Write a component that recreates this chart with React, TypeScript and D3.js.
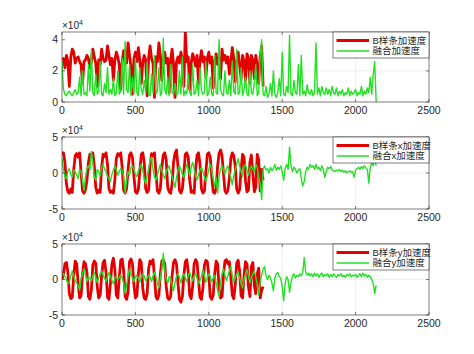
import React, { useEffect, useRef } from 'react'
import * as d3 from 'd3'

// 数据单位: ×10^4, 红线每 10 个采样点一个值 (0..1370), 绿线 (0..2140)
const STEP = 10

const splineAcc = [
  2.7, 2.8, 2.2, 3.0, 2.6, 1.0, 2.9, 3.4, 3.2, 2.5,
  2.8, 2.9, 2.6, 2.4, 1.2, 2.6, 2.7, 3.0, 2.8, 2.2,
  2.6, 3.4, 2.9, 2.5, 1.0, 2.7, 2.4, 3.4, 2.8, 2.6,
  2.7, 3.6, 3.0, 2.4, 2.8, 1.4, 2.7, 3.2, 2.9, 2.4,
  0.8, 2.6, 3.3, 2.9, 2.5, 3.8, 3.0, 2.2, 0.5, 2.8,
  3.2, 2.6, 3.5, 2.7, 1.2, 2.5, 3.0, 2.7, 0.4, 2.8,
  3.6, 2.8, 2.5, 0.3, 2.9, 2.6, 3.8, 3.0, 1.4, 2.7,
  3.2, 2.5, 2.8, 0.6, 2.7, 3.4, 2.4, 0.3, 2.6, 2.9,
  2.5, 3.2, 2.7, 1.0, 4.5, 2.6, 2.9, 0.8, 2.5, 3.1,
  2.8, 2.3, 3.0, 1.2, 2.7, 3.3, 2.6, 2.9, 1.6, 2.8,
  3.2, 2.5, 2.9, 0.9, 2.6, 3.1, 2.4, 2.8, 1.5, 3.4,
  2.7, 3.0, 2.5, 2.9, 1.8, 2.6, 3.5, 2.8, 1.3, 2.6,
  3.2, 2.4, 1.5, 3.0, 2.6, 1.4, 3.1, 2.8, 1.2, 3.0,
  2.7, 1.5, 3.0, 2.4, 1.2, 2.9, 3.6, 1.0,
]

const fusedAcc = [
  2.6, 0.8, 0.5, 0.4, 0.6, 0.7, 0.5, 0.4, 0.6, 0.8,
  0.5, 0.6, 1.6, 0.4, 2.0, 0.5, 0.6, 0.4, 2.4, 0.7,
  3.4, 0.6, 0.4, 1.8, 0.5, 0.7, 2.6, 0.5, 0.4, 1.2,
  0.6, 2.2, 0.5, 0.8, 0.5, 1.5, 0.4, 0.6, 2.0, 0.5,
  0.7, 2.8, 0.5, 3.9, 0.8, 0.6, 2.4, 0.4, 1.6, 0.5,
  2.8, 0.6, 0.4, 2.2, 0.8, 0.5, 1.4, 0.6, 2.6, 0.5,
  0.4, 1.8, 0.6, 3.0, 0.5, 0.7, 2.2, 0.4, 0.6, 4.1,
  0.8, 0.5, 1.6, 0.4, 2.4, 0.6, 0.5, 1.2, 0.4, 0.6,
  2.0, 0.5, 2.9, 0.4, 0.7, 0.5, 1.8, 0.6, 0.4, 2.4,
  0.5, 0.6, 1.4, 0.4, 2.2, 0.7, 0.5, 0.6, 2.6, 0.4,
  0.6, 1.6, 0.5, 0.4, 3.0, 0.6, 0.5, 4.0, 0.8, 0.5,
  0.4, 2.0, 0.6, 0.5, 1.4, 0.4, 2.6, 0.7, 0.5, 3.4,
  0.5, 0.6, 2.2, 0.4, 0.8, 1.6, 0.5, 0.4, 2.0, 0.6,
  0.5, 1.2, 2.4, 0.4, 0.6, 3.0, 4.0, 0.5, 0.4, 1.0,
  0.3, 0.5, 1.2, 0.4, 2.0, 0.5, 0.3, 0.6, 1.5, 0.4,
  3.2, 0.5, 0.4, 1.0, 0.6, 4.3, 0.5, 0.4, 1.4, 0.6,
  0.5, 2.4, 0.4, 3.0, 0.5, 0.7, 0.4, 1.1, 0.6, 0.5,
  0.8, 0.4, 0.6, 3.8, 0.5, 0.9, 0.4, 1.0, 0.6, 0.5,
  0.9, 0.5, 0.8, 0.4, 1.0, 0.6, 0.5, 0.9, 0.4, 0.7,
  0.5, 0.8, 0.4, 0.6, 0.5, 0.9, 0.4, 0.7, 0.5, 0.6,
  0.8, 0.4, 0.6, 0.5, 1.0, 0.4, 0.7, 0.5, 0.9, 0.6,
  1.6, 0.5, 1.8, 2.6, 0.0,
]

const splineAccX = [
  2.5, 2.8, 1.5, -1.5, -2.6, -2.8, -2.2, -2.7, 0.5, 2.4,
  2.7, 2.2, 2.8, 0.0, -2.5, -2.8, -2.3, -1.0, 1.5, 2.6,
  2.2, 2.8, 1.0, -2.0, -2.8, -2.4, -2.7, 0.8, 2.6, 2.3,
  2.8, 1.2, -2.2, -2.7, -2.5, -2.8, -1.0, 2.0, 2.7, 2.4,
  2.8, 0.8, -2.4, -2.8, -2.2, 0.5, 2.5, 2.8, 2.2, -0.5,
  -2.6, -2.8, -2.3, 0.2, 2.6, 2.8, 1.5, -2.2, -2.7, -2.4,
  1.0, 2.7, 2.4, 2.8, 0.0, -2.5, -2.8, -2.2, 0.8, 2.5,
  2.8, 1.8, -2.0, -2.6, -2.8, -1.5, 1.5, 2.7, 3.2, 1.0,
  -2.4, -2.8, -2.2, 0.0, 2.6, 2.8, 2.2, -1.0, -2.7, -2.5,
  -2.8, 0.5, 2.5, 2.8, 1.2, -2.2, -2.8, -2.5, 0.2, 2.6,
  2.8, 2.2, -0.5, -2.6, -2.8, -2.2, 1.0, 2.7, 3.2, 2.4,
  0.0, -2.5, -2.8, -2.4, -0.8, 2.0, 2.8, 2.4, 1.0, -2.2,
  -2.8, -2.3, 0.5, 2.6, 2.2, -1.0, -2.6, -2.4, 1.5, 2.5,
  0.0, -2.6, -2.0, 2.6, 1.8, -2.5, 0.5, -1.0,
]

const fusedAccX = [
  2.0, 0.5, -0.5, -0.8, 0.3, 0.6, -0.2, -0.6, 0.4, 0.2,
  -0.3, -0.8, 0.5, 0.2, -1.2, -2.4, -0.5, 0.6, 1.0, 0.4,
  3.0, 1.5, -0.5, -1.0, 0.5, 0.2, -0.4, 0.8, 1.2, 0.5,
  0.2, -0.5, -0.8, -1.2, -0.2, 0.4, 1.0, 0.5, -0.3, 0.2,
  0.6, 0.4, -0.5, -2.8, -1.0, 0.2, -0.3, 0.8, 1.0, 0.5,
  -0.2, -0.5, 0.3, 0.8, 1.2, 0.4, -0.8, -1.5, -0.4, 0.6,
  1.8, 2.2, 0.5, -0.6, -1.0, -0.2, 0.5, 1.2, 0.4, -0.3,
  -0.8, 0.2, 0.6, 1.0, 0.2, -0.5, -1.2, -2.0, -0.6, 0.4,
  1.0, 0.5, -0.2, -0.6, 0.4, 1.2, 0.6, -0.4, 0.8, 1.5,
  0.6, -0.5, -1.0, -0.2, 0.4, 0.8, 0.2, -0.6, -1.2, -0.4,
  0.5, 1.2, 0.4, -0.8, -1.8, -0.6, -2.8, -0.5, 0.6, 1.0,
  0.4, -0.2, 0.6, 1.0, 0.2, -0.6, -1.6, -0.4, 0.5, 1.2,
  2.0, 1.0, 0.2, -0.5, 0.8, 1.2, 0.4, -0.3, 0.6, 1.0,
  0.5, 0.2, 1.2, 0.8, -0.5, -1.5, -3.7, 0.5, 1.0, 0.4,
  0.6, 0.0, 0.8, 0.3, 0.6, 1.2, 0.4, 0.8, 0.5, 1.0,
  0.2, -1.0, 0.6, 1.2, 0.5, 3.6, 1.0, 0.2, 0.8, 0.5,
  0.0, 0.4, 0.6, -0.8, -1.8, -1.2, 0.2, 0.8, 0.5, 1.2,
  0.8, 1.0, 0.5, 1.2, 0.6, 0.8, 0.3, 1.0, 0.5, -0.6,
  0.2, 0.8, 0.6, 0.9, 0.4, 0.3, 0.2, 0.4, 0.3, 0.5,
  0.2, 0.4, 0.1, 0.3, 0.0, 0.2, 0.3, 0.1, 0.2, -0.6,
  0.4, 0.6, 0.8, 0.5, 0.9, 0.6, 1.0, 0.7, 0.5, -1.4,
  0.8, 1.4, 1.0, 2.0, 1.0,
]

const splineAccY = [
  0.0, 0.8, 2.2, 2.4, 1.0, -2.0, -2.7, -2.5, 0.5, 2.6,
  2.2, -0.5, -2.6, -2.3, 0.8, 2.5, 2.2, 1.0, -2.4, -2.8,
  -1.5, 2.0, 2.6, 2.3, -1.0, -2.6, -2.2, 0.5, 2.4, 2.7,
  1.0, -2.5, -2.8, -0.5, 2.2, 3.0, 1.5, -2.2, -2.6, 0.2,
  2.7, 2.9, 1.2, -2.4, -2.8, -1.8, 2.5, 2.9, 2.2, -0.8,
  -2.6, -2.3, 0.8, 2.8, 2.4, -1.2, -2.6, -2.8, -2.0, 1.5,
  2.6, 2.2, 2.8, 0.4, -2.4, -2.8, -2.2, 0.8, 2.6, 2.8,
  2.2, -1.0, -2.6, -2.8, -2.4, 0.5, 2.4, 2.8, 2.2, -0.5,
  -2.8, -3.2, -2.4, 0.6, 2.5, 2.8, 1.0, -2.2, -2.7, -1.0,
  2.2, 2.8, 2.4, -0.2, -2.5, -2.8, -1.2, 2.0, 2.7, 2.5,
  0.5, -2.4, -2.8, -2.2, 0.8, 2.6, 2.2, -1.2, -2.6, -2.4,
  0.6, 2.6, 2.8, 2.2, 2.5, 0.4, -2.2, -2.7, -0.8, 2.3,
  2.7, 1.2, -2.3, -2.6, 0.5, 2.5, 2.2, -1.0, -2.4, 1.8,
  2.4, -0.8, -2.0, 0.8, 1.6, -2.6, -1.5, -1.0,
]

const fusedAccY = [
  0.5, 0.8, 0.4, 0.0, -0.6, -0.4, 0.5, 1.2, 0.6, -0.2,
  -0.5, -0.8, -1.5, 0.2, 0.8, 1.5, 0.6, -0.3, 0.4, 0.2,
  -0.2, 0.5, 1.0, 0.3, -0.4, 0.2, 0.8, 1.2, 0.6, 0.2,
  -0.3, 0.4, 1.0, 0.5, -0.2, -0.6, 0.2, 0.5, 0.0, 0.3,
  0.6, 0.2, -0.5, -2.0, -0.8, 0.5, 1.5, 0.8, 0.2, -0.3,
  0.4, 0.6, 0.2, -0.4, 0.3, 0.8, 0.5, -0.2, 0.2, 0.6,
  0.4, -0.3, 0.5, 1.0, 0.4, -0.6, -1.2, 0.2, 1.5, 3.7,
  1.2, 0.0, -0.5, 0.4, 0.2, -0.8, -1.6, -0.4, 0.5, 0.8,
  0.3, -0.5, 0.4, 0.8, 0.2, -0.3, 0.6, 1.0, 0.4, -0.2,
  0.5, 0.8, 0.2, -0.6, -0.2, 0.5, 1.4, 0.6, -0.4, 0.3,
  0.8, 0.4, -0.3, 0.2, 0.6, -0.5, -1.5, -2.4, -0.4, 0.8,
  1.5, 0.6, -0.2, 0.5, 1.2, 1.8, 0.6, -0.4, 0.2, 0.8,
  1.0, 0.2, -0.6, -1.2, 0.0, 0.8, 1.4, 0.5, -0.5, 0.3,
  0.8, 1.2, 0.4, -0.8, -2.2, -0.4, 0.6, 1.5, 1.8, 0.5,
  0.0, 0.6, 0.2, -0.5, -1.6, 0.2, 0.8, 1.0, 0.4, 0.2,
  -1.0, -3.0, -0.6, 0.4, 0.0, -1.8, -0.4, 0.5, 0.8, 0.2,
  0.6, 0.4, 0.8, 0.5, 1.0, 3.1, 1.0, 0.6, 0.9, 0.5,
  0.8, 0.4, 0.9, 0.5, 0.8, 0.3, 0.7, 0.9, 0.4, 0.7,
  0.5, 0.8, 0.3, 0.7, 0.4, 0.8, 0.5, 0.3, 0.7, 0.5,
  0.8, 0.4, 0.6, 0.3, 0.7, 0.5, 0.8, 0.4, 0.6, 0.5,
  0.7, 0.3, 0.6, 0.8, 0.4, 0.9, 0.5, 0.7, 0.3, 0.6,
  0.4, 0.0, -0.6, -2.0, -0.8,
]

const xTicks = [0, 500, 1000, 1500, 2000, 2500]

const panels = [
  { red: splineAcc, green: fusedAcc, yDomain: [0, 4.5], yTicks: [0, 2, 4], labels: ['B样条加速度', '融合加速度'], top: 32, bottom: 102 },
  { red: splineAccX, green: fusedAccX, yDomain: [-5, 5], yTicks: [-5, 0, 5], labels: ['B样条x加速度', '融合x加速度'], top: 137, bottom: 209 },
  { red: splineAccY, green: fusedAccY, yDomain: [-5, 5], yTicks: [-5, 0, 5], labels: ['B样条y加速度', '融合y加速度'], top: 244, bottom: 315 },
]

const FONT = '"Liberation Sans", Arial, sans-serif'
const CJK = '"Liberation Sans", "Noto Sans CJK SC", sans-serif'
const AXIS = '#262626'
const RED = '#e20000'
const GREEN = '#22e022'

const App = () => {
  const ref = useRef<SVGSVGElement>(null)

  useEffect(() => {
    const svg = d3.select(ref.current)
    svg.selectAll('*').remove()
    svg.append('rect').attr('width', 474).attr('height', 354).attr('fill', '#fff')

    const left = 62
    const right = 429
    const x = d3.scaleLinear().domain([0, 2500]).range([left, right])

    panels.forEach((p) => {
      const y = d3.scaleLinear().domain(p.yDomain).range([p.bottom, p.top])
      const g = svg.append('g')

      // grid
      g.selectAll('.gx').data(xTicks.slice(1, -1)).enter().append('line')
        .attr('x1', (d) => x(d)).attr('x2', (d) => x(d))
        .attr('y1', p.top).attr('y2', p.bottom)
        .attr('stroke', '#e3e3e3').attr('stroke-width', 0.6)
      g.selectAll('.gy').data(p.yTicks.slice(1, -1)).enter().append('line')
        .attr('y1', (d) => y(d)).attr('y2', (d) => y(d))
        .attr('x1', left).attr('x2', right)
        .attr('stroke', '#e3e3e3').attr('stroke-width', 0.6)

      const line = d3.line<number>()
        .x((_, i) => x(i * STEP))
        .y((d) => y(d))

      const clipId = `clip${p.top}`
      svg.append('clipPath').attr('id', clipId).append('rect')
        .attr('x', left).attr('y', p.top).attr('width', right - left).attr('height', p.bottom - p.top)

      g.append('path').datum(p.red).attr('d', line).attr('fill', 'none')
        .attr('stroke', RED).attr('stroke-width', 2.8).attr('stroke-linejoin', 'round')
        .attr('clip-path', `url(#${clipId})`)
      g.append('path').datum(p.green).attr('d', line).attr('fill', 'none')
        .attr('stroke', GREEN).attr('stroke-width', 1.4).attr('stroke-linejoin', 'round')
        .attr('clip-path', `url(#${clipId})`)

      // box
      g.append('rect').attr('x', left).attr('y', p.top).attr('width', right - left).attr('height', p.bottom - p.top)
        .attr('fill', 'none').attr('stroke', AXIS).attr('stroke-width', 0.6)

      // ticks (inside) + labels
      xTicks.forEach((t) => {
        g.append('line').attr('x1', x(t)).attr('x2', x(t)).attr('y1', p.bottom).attr('y2', p.bottom - 3)
          .attr('stroke', AXIS).attr('stroke-width', 0.6)
        g.append('line').attr('x1', x(t)).attr('x2', x(t)).attr('y1', p.top).attr('y2', p.top + 3)
          .attr('stroke', AXIS).attr('stroke-width', 0.6)
        g.append('text').attr('x', x(t)).attr('y', p.bottom + 12).attr('text-anchor', 'middle')
          .attr('font-family', FONT).attr('font-size', 10.5).attr('fill', AXIS).text(t)
      })
      p.yTicks.forEach((t) => {
        g.append('line').attr('x1', left).attr('x2', left + 3).attr('y1', y(t)).attr('y2', y(t))
          .attr('stroke', AXIS).attr('stroke-width', 0.6)
        g.append('line').attr('x1', right).attr('x2', right - 3).attr('y1', y(t)).attr('y2', y(t))
          .attr('stroke', AXIS).attr('stroke-width', 0.6)
        g.append('text').attr('x', left - 4).attr('y', y(t) + 3.5).attr('text-anchor', 'end')
          .attr('font-family', FONT).attr('font-size', 10.5).attr('fill', AXIS).text(t)
      })

      // ×10^4
      const exp = g.append('text').attr('x', left).attr('y', p.top - 3)
        .attr('font-family', FONT).attr('font-size', 10).attr('fill', AXIS)
      exp.append('tspan').text('×10')
      exp.append('tspan').attr('dy', -4).attr('font-size', 7).text('4')

      // legend
      const lx = 333
      const lw = right - lx
      const lg = g.append('g')
      lg.append('rect').attr('x', lx).attr('y', p.top).attr('width', lw).attr('height', 26)
        .attr('fill', '#fff').attr('stroke', AXIS).attr('stroke-width', 0.6)
      const colors = [RED, GREEN]
      const widths = [2.8, 1.4]
      p.labels.forEach((lab, i) => {
        const ly = p.top + 8.5 + i * 10.5
        lg.append('line').attr('x1', lx + 3.5).attr('x2', lx + 36).attr('y1', ly).attr('y2', ly)
          .attr('stroke', colors[i]).attr('stroke-width', widths[i])
        lg.append('text').attr('x', lx + 39.5).attr('y', ly + 3.4)
          .attr('font-family', CJK).attr('font-size', 9.5).attr('fill', AXIS).text(lab)
      })
    })
  }, [])

  return <svg ref={ref} width={474} height={354} style={{ position: 'absolute', left: 0, top: 0 }} />
}

export default App
